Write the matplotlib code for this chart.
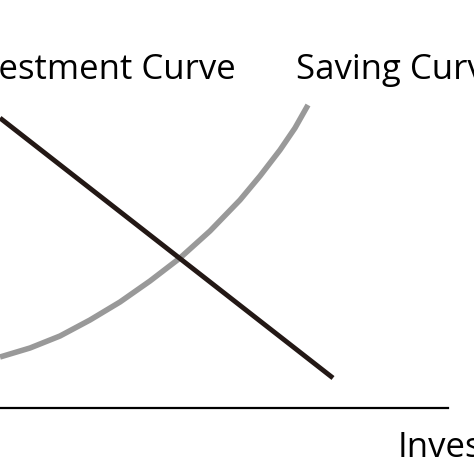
import matplotlib.pyplot as plt

# curve points (pixel-like coordinates, y grows down)
invest_x = [0, 333]
invest_y = [118, 378]
saving_x = [0, 30, 60, 90, 120, 150, 180, 210, 240, 260, 280, 295, 308]
saving_y = [357, 348, 336, 320, 302, 281, 258, 231, 200, 176, 150, 128, 105]

fig = plt.figure(figsize=(4.74, 4.74), dpi=100)
ax = fig.add_axes([0, 0, 1, 1])
ax.set_xlim(0, 474)
ax.set_ylim(474, 0)
ax.axis('off')

ax.plot([0, 448], [408, 408], color='black', lw=1.6)
ax.plot(saving_x, saving_y, color='#999999', lw=4, solid_capstyle='butt')
ax.plot(invest_x, invest_y, color='#231815', lw=3.5, solid_capstyle='butt')

font = 'Open Sans'
ax.text(236, 70, 'Investment Curve', ha='right', va='center', fontsize=25, family=font)
ax.text(296, 70, 'Saving Curve', ha='left', va='center', fontsize=25, family=font)
ax.text(398, 448, 'Investment', ha='left', va='center', fontsize=25, family=font)

fig.savefig('out.png', dpi=100)
